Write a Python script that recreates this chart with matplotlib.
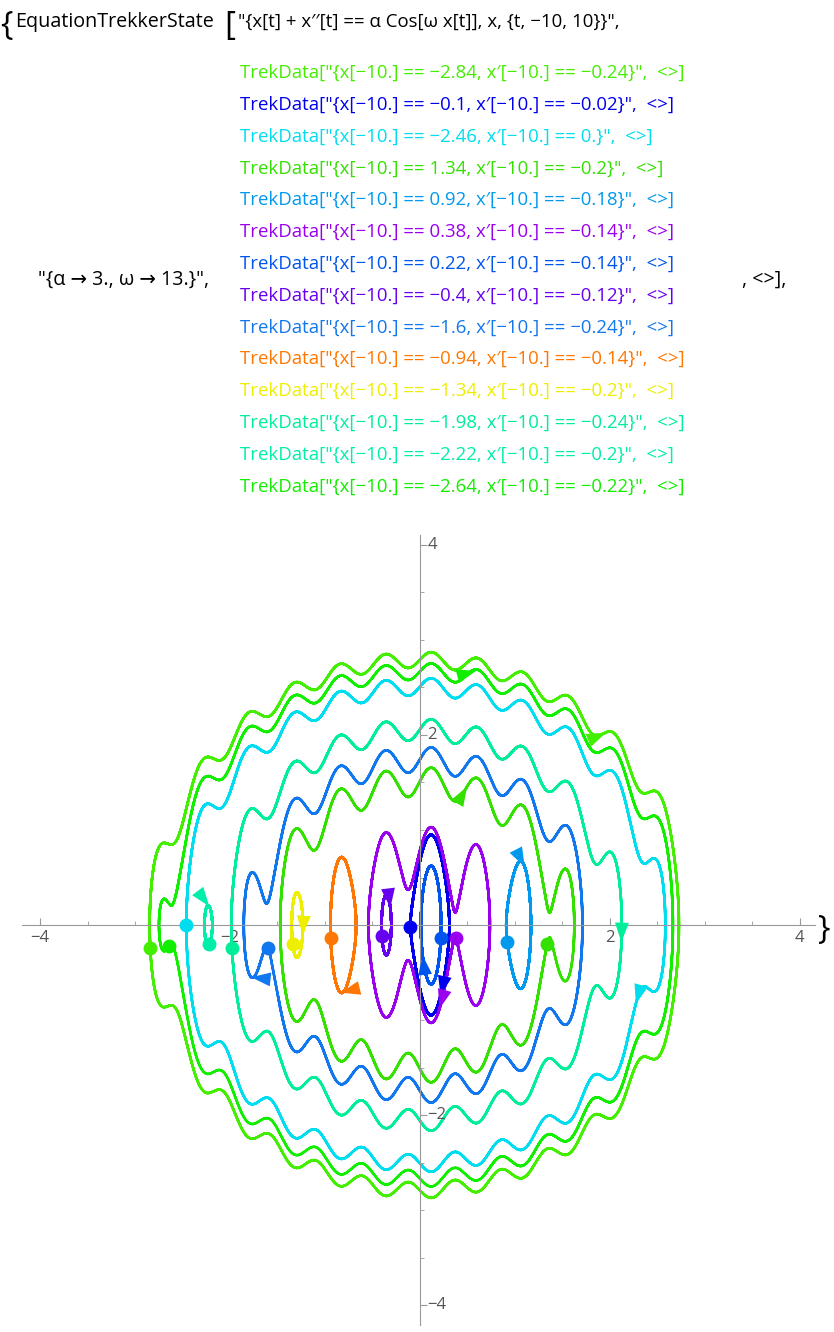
import numpy as np
import matplotlib.pyplot as plt

plt.rcParams['font.family'] = ['Open Sans', 'DejaVu Sans']

alpha = 3.0
omega = 13.0
x0 = [-2.84, -0.1, -2.46, 1.34, 0.92, 0.38, 0.22, -0.4, -1.6, -0.94, -1.34, -1.98, -2.22, -2.64]
v0 = [-0.24, -0.02, 0.0, -0.2, -0.18, -0.14, -0.14, -0.12, -0.24, -0.14, -0.2, -0.24, -0.2, -0.22]
v0_txt = ["−0.24", "−0.02", "0.", "−0.2", "−0.18", "−0.14", "−0.14", "−0.12", "−0.24", "−0.14",
          "−0.2", "−0.24", "−0.2", "−0.22"]
colors = ["#44ee00", "#0000ee", "#00ddee", "#33e000", "#0099ee", "#9900ee", "#0055ee", "#6600ee",
          "#1177ee", "#ff7700", "#eeee00", "#00ee99", "#00eeaa", "#11ee00"]


def accel(x):
    return -x + alpha * np.cos(omega * x)


def trek(xi, vi, t0=-10.0, t1=10.0, dt=0.002):
    n = int((t1 - t0) / dt)
    xs = np.empty(n + 1)
    vs = np.empty(n + 1)
    x, v = xi, vi
    xs[0], vs[0] = x, v
    for i in range(n):
        k1x, k1v = v, accel(x)
        k2x, k2v = v + 0.5 * dt * k1v, accel(x + 0.5 * dt * k1x)
        k3x, k3v = v + 0.5 * dt * k2v, accel(x + 0.5 * dt * k2x)
        k4x, k4v = v + dt * k3v, accel(x + dt * k3x)
        x += dt / 6 * (k1x + 2 * k2x + 2 * k3x + k4x)
        v += dt / 6 * (k1v + 2 * k2v + 2 * k3v + k4v)
        xs[i + 1], vs[i + 1] = x, v
    return xs, vs


W, H = 834, 1332
fig = plt.figure(figsize=(W / 100, H / 100), dpi=100)

def ftxt(x, y, s, **kw):
    fig.text(x / W, 1 - y / H, s, va='center', **kw)

fs = 14.2
ftxt(0, 26, "{", fontsize=24, color='black')
ftxt(15, 22, "EquationTrekkerState", fontsize=fs, color='black')
ftxt(224, 26, "[", fontsize=24, color='black')
ftxt(238, 22, "\"{x[t] + x′′[t] == α Cos[ω x[t]], x, {t, −10, 10}}\",", fontsize=fs - 0.8, color='black')
ftxt(38, 280, "\"{α → 3., ω → 13.}\",", fontsize=fs, color='black')
ftxt(742, 280, ", <>],", fontsize=fs, color='black')
for i in range(len(x0)):
    xs = f"{x0[i]:g}".replace("-", "−")
    s = f"TrekData[\"{{x[−10.] == {xs}, x′[−10.] == {v0_txt[i]}}}\",  <>]"
    ftxt(240, 73 + i * 31.8, s, fontsize=fs - 0.8, color=colors[i])
ftxt(818, 930, "}", fontsize=24, color='black')

ax = fig.add_axes([22 / W, 1 - 1325 / H, (815 - 22) / W, (1325 - 535) / H])
ax.set_xlim(-4.19, 4.16)
ax.set_ylim(-4.21, 4.105)
for sp in ['top', 'right']:
    ax.spines[sp].set_visible(False)
ax.spines['left'].set_position(('data', 0))
ax.spines['bottom'].set_position(('data', 0))
ax.spines['left'].set_color('#999999')
ax.spines['bottom'].set_color('#999999')
ax.set_xticks([-4, -2, 2, 4])
ax.set_yticks([-4, -2, 2, 4])
ax.set_xticks(np.arange(-4, 4.01, 0.5), minor=True)
ax.set_yticks(np.arange(-4, 4.01, 0.5), minor=True)
ax.tick_params(colors='#999999', labelcolor='#555555', labelsize=12, length=5, direction='in')
ax.tick_params(which='minor', length=3, direction='in', colors='#999999')
ax.set_xticklabels(["−4", "−2", "2", "4"])
ax.set_yticklabels([])
for yv, lab in zip([-4, -2, 2, 4], ["−4", "−2", "2", "4"]):
    ax.text(0.08, yv, lab, color='#555555', fontsize=12, va='center', ha='left')

for i in range(len(x0)):
    xs, vs = trek(x0[i], v0[i])
    ax.plot(xs, vs, color=colors[i], lw=1.8, zorder=2)
    k = 1200 + 300 * i
    ax.annotate("", xy=(xs[k + 20], vs[k + 20]), xytext=(xs[k], vs[k]),
                arrowprops=dict(arrowstyle='-|>,head_length=1.4,head_width=0.5',
                                color=colors[i], lw=0), zorder=3)
    ax.plot(x0[i], v0[i], 'o', color=colors[i], ms=9, zorder=4)

fig.savefig("out.png", dpi=100)
